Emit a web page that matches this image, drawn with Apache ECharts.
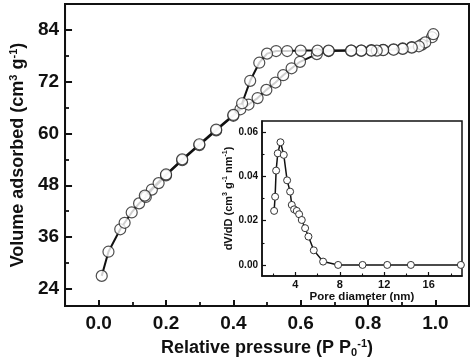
<!DOCTYPE html>
<html><head><meta charset="utf-8">
<script src="https://cdn.jsdelivr.net/npm/echarts@6/dist/echarts.min.js"></script>
<style>html,body{margin:0;padding:0;background:#fff}#c{width:474px;height:363px}</style>
</head><body><div id="c"></div>
<script>
// Isotherm: adsorption branch
const adsP = [0.009,0.029,0.064,0.077,0.098,0.12,0.14,0.158,0.178,0.2,0.248,0.299,0.349,0.4,0.421,0.445,0.472,0.498,0.525,0.548,0.573,0.598,0.648,0.683,0.75,0.78,0.81,0.845,0.876,0.903,0.93,0.96,0.99];
const adsV = [27.0,32.6,37.8,39.3,41.7,43.8,45.3,47.0,48.5,50.3,53.8,57.3,60.7,64.1,65.6,66.7,68.2,70.1,71.8,73.5,75.1,76.6,78.4,79.1,79.2,79.2,79.3,79.4,79.5,79.7,80.0,80.6,82.3];
// Isotherm: desorption branch
const desP = [0.994,0.97,0.951,0.93,0.903,0.876,0.845,0.826,0.81,0.78,0.75,0.683,0.65,0.6,0.56,0.527,0.5,0.477,0.45,0.426,0.4,0.349,0.299,0.248,0.2,0.137];
const desV = [83.0,81.1,80.2,79.9,79.6,79.4,79.3,79.2,79.2,79.2,79.2,79.2,79.2,79.2,79.1,79.1,78.5,76.4,72.2,67.0,64.3,60.9,57.5,54.0,50.5,45.6];
// Pore size distribution (inset)
const poreD = [2.09,2.18,2.27,2.42,2.66,2.96,3.26,3.53,3.68,3.89,4.13,4.34,4.58,4.88,5.18,5.66,6.5,7.85,10.05,12.27,14.4,18.9];
const dVdD = [0.0244,0.0308,0.0426,0.0504,0.0554,0.0497,0.0382,0.0331,0.0271,0.0251,0.0244,0.0229,0.0203,0.0166,0.0128,0.0066,0.0015,0.0,0.0,0.0,0.0,0.0];
// tick labels
const mainXTicks = [0,0.2,0.4,0.6,0.8,1.0];
const mainXMinor = [0.1,0.3,0.5,0.7,0.9];
const mainYTicks = [24,36,48,60,72,84];
const mainYMinor = [30,42,54,66,78];
const insetXTicks = [4,8,12,16];
const insetXMinor = [2,6,10,14,18];
const insetYTicks = [0,0.02,0.04,0.06];
const insetYMinor = [0.01,0.03,0.05];

const FF = "'Liberation Sans', Arial, sans-serif";
const zip = (a,b)=>a.map((v,i)=>[v,b[i]]);
const sup = {fontSize:11, fontWeight:'bold', fontFamily:FF, color:'#111', verticalAlign:'top', padding:[0,0,9,0]};
const sub = {fontSize:11, fontWeight:'bold', fontFamily:FF, color:'#111', padding:[9,0,0,0]};
const supS = {fontSize:7, fontWeight:'bold', fontFamily:FF, color:'#111', padding:[0,0,6,0]};

function mkX(grid,min,max,ticks,fmt,fs,margin,len,name,nameGap,nameFs,rich){
  return {type:'value', gridIndex:grid, position:'bottom', min, max,
    axisLine:{show:true, onZero:false, lineStyle:{color:'#111', width: grid===0?2:1.5}},
    axisTick:{show:true, inside:true, length:len, customValues:ticks, lineStyle:{color:'#111', width:grid===0?2:1.2}},
    axisLabel:{show:true, customValues:ticks, formatter:fmt, fontSize:fs, fontWeight:'bold', fontFamily:FF, color:'#111', margin},
    splitLine:{show:false},
    name, nameLocation:'middle', nameGap,
    nameTextStyle:{fontSize:nameFs, fontWeight:'bold', fontFamily:FF, color:'#111', rich}};
}
function mkY(grid,min,max,ticks,fmt,fs,margin,len,name,nameGap,nameFs,rich){
  return {type:'value', gridIndex:grid, position:'left', min, max,
    axisLine:{show:true, onZero:false, lineStyle:{color:'#111', width: grid===0?2:1.5}},
    axisTick:{show:true, inside:true, length:len, customValues:ticks, lineStyle:{color:'#111', width:grid===0?2:1.2}},
    axisLabel:{show:true, customValues:ticks, formatter:fmt, fontSize:fs, fontWeight:'bold', fontFamily:FF, color:'#111', margin},
    splitLine:{show:false},
    name, nameLocation:'middle', nameGap, nameRotate:90,
    nameTextStyle:{fontSize:nameFs, fontWeight:'bold', fontFamily:FF, color:'#111', rich}};
}
function minor(kind,grid,min,max,vals,len){
  return {type:'value', gridIndex:grid, position: kind==='x'?'bottom':'left', min, max,
    axisLine:{show:false, onZero:false}, axisLabel:{show:false}, splitLine:{show:false},
    axisTick:{show:true, inside:true, length:len, customValues:vals, lineStyle:{color:'#111', width:grid===0?1.8:1.1}}};
}

const chart = echarts.init(document.getElementById('c'), null, {renderer:'canvas'});
chart.setOption({
  animation:false,
  backgroundColor:'#fff',
  grid:[
    {left:56, right:5, top:4, bottom:52, show:true, borderColor:'#111', borderWidth:2, backgroundColor:'transparent', containLabel:false},
    {left:262, top:121, width:200, height:155, show:true, borderColor:'#111', borderWidth:1.5, backgroundColor:'#fff', z:5, containLabel:false}
  ],
  xAxis:[
    mkX(0,-0.1,1.1,mainXTicks,v=>v.toFixed(1),19,8,6,'Relative pressure (P P{sub|0}{sup|-1})',31,18,{sup,sub}),
    minor('x',0,-0.1,1.1,mainXMinor,4),
    Object.assign(mkX(1,1,19,insetXTicks,v=>String(v),11,3,4,'Pore diameter (nm)',14,11.5,{}),{z:6}),
    Object.assign(minor('x',1,1,19,insetXMinor,2.5),{z:6})
  ],
  yAxis:[
    mkY(0,20,90,mainYTicks,v=>String(v),19,6,7,'Volume adsorbed (cm{sup|3} g{sup|-1})',36,18,{sup}),
    minor('y',0,20,90,mainYMinor,4),
    Object.assign(mkY(1,-0.005,0.065,insetYTicks,v=>v.toFixed(2),10,4,4,'dV/dD (cm{s|3} g{s|-1} nm{s|-1})',27,11,{s:supS}),{z:6}),
    Object.assign(minor('y',1,-0.005,0.065,insetYMinor,2.5),{z:6})
  ],
  series:[
    {type:'line', xAxisIndex:0, yAxisIndex:0, data:zip(adsP,adsV), showSymbol:false, lineStyle:{color:'#111', width:2}, z:2, silent:true},
    {type:'line', xAxisIndex:0, yAxisIndex:0, data:zip(desP,desV), showSymbol:false, lineStyle:{color:'#111', width:2}, z:2, silent:true},
    {type:'scatter', xAxisIndex:0, yAxisIndex:0, data:zip(adsP,adsV), symbol:'circle', symbolSize:11, itemStyle:{color:'#fff', borderColor:'#222', borderWidth:1.2}, z:3},
    {type:'scatter', xAxisIndex:0, yAxisIndex:0, data:zip(desP,desV), symbol:'circle', symbolSize:11, itemStyle:{color:'#fff', borderColor:'#222', borderWidth:1.2}, z:3},
    {type:'line', xAxisIndex:2, yAxisIndex:2, data:zip(poreD,dVdD), showSymbol:true, symbol:'circle', symbolSize:7, lineStyle:{color:'#111', width:1.5}, itemStyle:{color:'#fff', borderColor:'#333', borderWidth:1}, z:7}
  ]
});
</script></body></html>
